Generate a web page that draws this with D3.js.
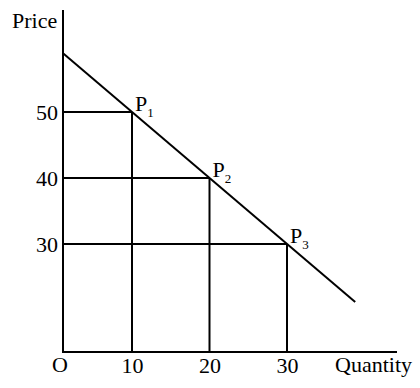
<!DOCTYPE html>
<html lang="en">
<head>
  <meta charset="UTF-8">
  <title>Demand curve</title>
  <style>
    body { margin: 0; background: #fff; }
    svg text { font-family: "Liberation Serif", "Times New Roman", serif; fill: #000; }
  </style>
</head>
<body>
  <svg id="svg" width="420" height="388"></svg>

  <script src="https://d3js.org/d3.v7.min.js"></script>
  <script>
    // data
    const quantities = [10, 20, 30]
    const prices = [50, 40, 30]
    const pointLabels = ['1', '2', '3']
    const demandLine = [[1.1, 58.9], [38.8, 21.2]]  // ends of the demand curve (Q, P)

    const svg = d3.select('#svg')

    // origin of the drawn axes
    const origin = { x: 63, y: 352 }
    const axisTop = 10
    const axisRight = 397

    // x scale (schematic, not starting at the origin)
    const xscale = d3.scaleLinear()
      .domain([10, 30])
      .range([132, 287])

    // y scale
    const yscale = d3.scaleLinear()
      .domain([30, 50])
      .range([244, 112])

    const lineStyle = sel => sel.attr('stroke', '#000').attr('stroke-width', 2).attr('fill', 'none')

    // guide lines: horizontal from the axis to the point, vertical down to the axis
    const guides = svg.append('g')
    guides.selectAll('line.h')
      .data(quantities)
      .enter()
      .append('line')
      .attr('class', 'h')
      .attr('x1', origin.x)
      .attr('x2', d => xscale(d))
      .attr('y1', (d, i) => yscale(prices[i]))
      .attr('y2', (d, i) => yscale(prices[i]))
      .call(lineStyle)

    guides.selectAll('line.v')
      .data(quantities)
      .enter()
      .append('line')
      .attr('class', 'v')
      .attr('x1', d => xscale(d))
      .attr('x2', d => xscale(d))
      .attr('y1', (d, i) => yscale(prices[i]))
      .attr('y2', origin.y)
      .call(lineStyle)

    // demand curve
    svg.append('path')
      .datum(demandLine)
      .attr('d', d3.line().x(d => xscale(d[0])).y(d => yscale(d[1])))
      .call(lineStyle)

    // axes
    svg.append('path')
      .attr('d', `M${origin.x},${axisTop}V${origin.y}H${axisRight}`)
      .call(lineStyle)

    const bottomAxis = d3.axisBottom(xscale)
      .tickValues(quantities)
      .tickSize(0)
      .tickPadding(0)
    const gx = svg.append('g')
      .attr('transform', `translate(0, ${origin.y + 5})`)
      .call(bottomAxis)
    gx.select('.domain').remove()
    gx.selectAll('text')
      .attr('font-family', null)
      .attr('dy', '0.71em')
      .style('font-size', '22px')

    const leftAxis = d3.axisLeft(yscale)
      .tickValues(prices)
      .tickSize(0)
      .tickPadding(0)
    const gy = svg.append('g')
      .attr('transform', `translate(${origin.x - 5}, 0)`)
      .call(leftAxis)
    gy.select('.domain').remove()
    gy.selectAll('text')
      .attr('font-family', null)
      .style('font-size', '22px')

    // axis titles
    svg.append('text')
      .attr('x', 12)
      .attr('y', 28)
      .style('font-size', '22px')
      .text('Price')

    svg.append('text')
      .attr('x', 335)
      .attr('y', 372)
      .style('font-size', '22px')
      .text('Quantity')

    svg.append('text')
      .attr('x', 60)
      .attr('y', 372)
      .attr('text-anchor', 'middle')
      .style('font-size', '22px')
      .text('O')

    // point labels P1, P2, P3
    const labels = svg.append('g')
      .selectAll('text')
      .data(quantities)
      .enter()
      .append('text')
      .attr('x', d => xscale(d) + 3)
      .attr('y', (d, i) => yscale(prices[i]) - 1)
      .style('font-size', '22px')

    labels.append('tspan').text('P')
    labels.append('tspan')
      .attr('dy', 6)
      .style('font-size', '13px')
      .text((d, i) => pointLabels[i])
  </script>
</body>
</html>
